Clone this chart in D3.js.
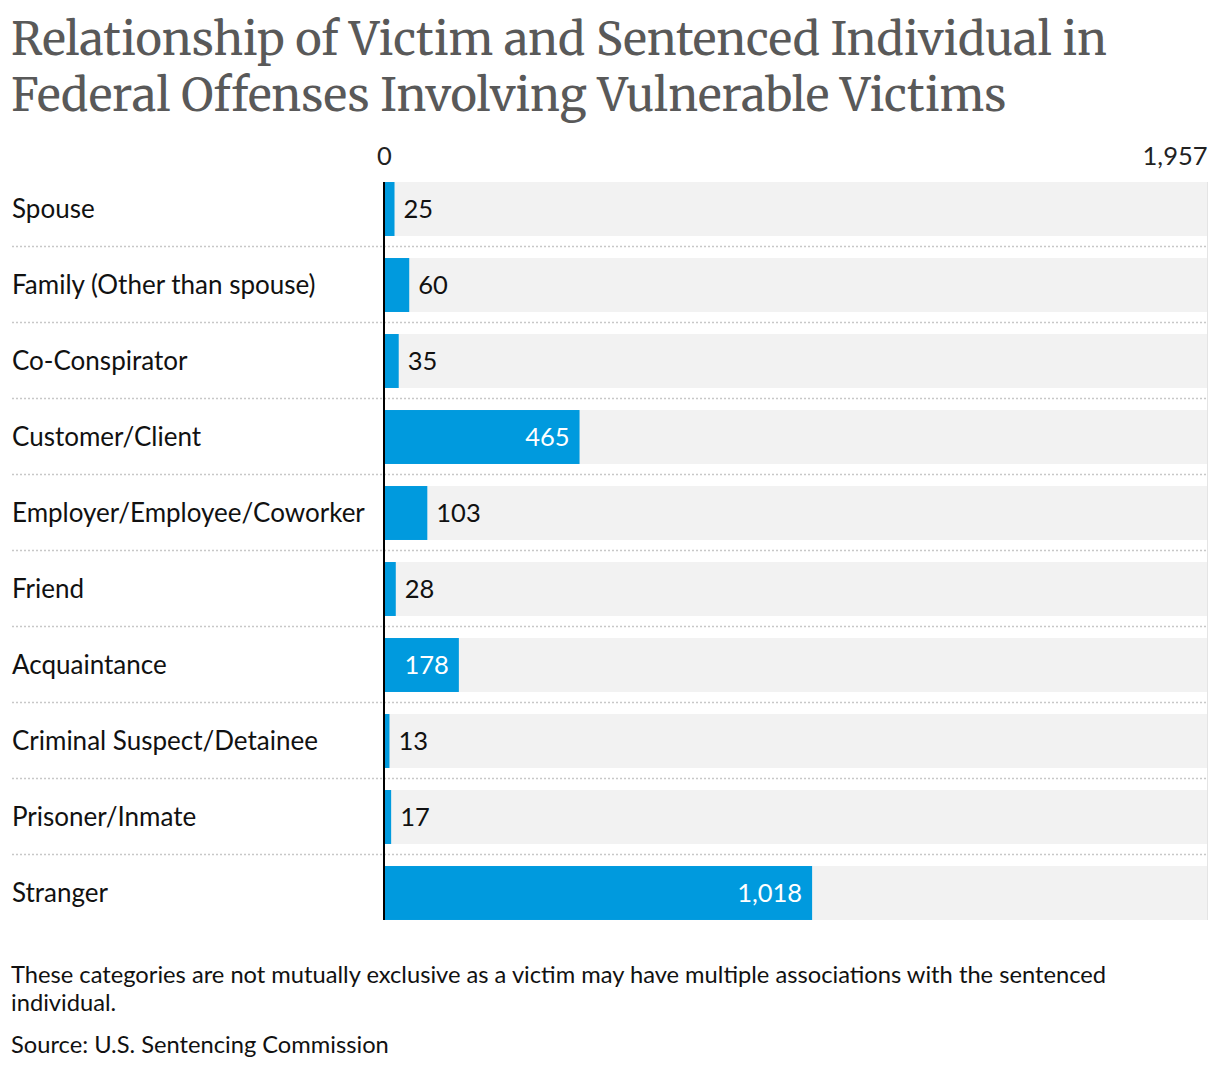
<!DOCTYPE html>
<html lang="en">
	<head>
		<meta charset="utf-8">
		<title>Relationship of Victim and Sentenced Individual</title>
		<script type="text/javascript" src="https://d3js.org/d3.v7.min.js"></script>
		<style type="text/css">
			body { margin: 0; background: #fff; }
			text { font-family: Lato, "Open Sans", sans-serif; }
		</style>
	</head>
	<body>
		<script type="text/javascript">

			//Data
			var categories = ["Spouse", "Family (Other than spouse)", "Co-Conspirator", "Customer/Client",
				"Employer/Employee/Coworker", "Friend", "Acquaintance", "Criminal Suspect/Detainee",
				"Prisoner/Inmate", "Stranger"];
			var values = [25, 60, 35, 465, 103, 28, 178, 13, 17, 1018];
			var maxValue = 1957;
			var tickValues = [0, 1957];
			var titleLines = ["Relationship of Victim and Sentenced Individual in",
				"Federal Offenses Involving Vulnerable Victims"];
			var noteLines = ["These categories are not mutually exclusive as a victim may have multiple associations with the sentenced",
				"individual."];
			var source = "Source: U.S. Sentencing Commission";

			var rows = categories.map(function(c, i) { return { name: c, value: values[i] }; });

			//Width and height
			var w = 1220;
			var h = 1070;

			var svg = d3.select("body")
						.append("svg")
						.attr("width", w)
						.attr("height", h);

			//title, squeezed to the reference width
			var title = svg.append("g");
			var titleSize = 46;
			titleLines.forEach(function(t, i) {
				var el = title.append("text")
					.attr("x", 11)
					.attr("y", 55 + i * 56)
					.attr("fill", "#595959")
					.style("font-family", "Merriweather, 'DejaVu Serif', serif")
					.style("font-size", titleSize + "px")
					.text(t);
				if (i === 0) {
					titleSize = 46 * 1096 / el.node().getComputedTextLength();
					el.style("font-size", titleSize + "px");
				}
			});

			var x = d3.scaleLinear()
				.domain([0, maxValue])
				.range([384, 1207]);

			var y = d3.scaleBand()
				.domain(categories)
				.range([171, 931])
				.paddingInner(0.29)
				.paddingOuter(0.145);

			//axis labels on top
			var axis = d3.axisTop(x).tickValues(tickValues).tickFormat(d3.format(",")).tickSize(0).tickPadding(0);
			var axisG = svg.append("g")
				.attr("transform", "translate(0,165)")
				.call(axis);
			axisG.select(".domain").remove();
			axisG.selectAll("text")
				.style("font-family", "Lato, sans-serif")
				.style("font-size", "25.5px")
				.attr("fill", "#222")
				.attr("dy", 0)
				.attr("text-anchor", function(d) { return d === maxValue ? "end" : "middle"; });

			//separators
			svg.selectAll("line.sep")
				.data(categories.slice(1))
				.enter()
				.append("line")
				.attr("class", "sep")
				.attr("x1", 12)
				.attr("x2", 1207)
				.attr("y1", function(d) { return y(d) - y.step() * 0.145 - 0.5; })
				.attr("y2", function(d) { return y(d) - y.step() * 0.145 - 0.5; })
				.attr("stroke", "#c8c8c8")
				.attr("stroke-width", 1.5)
				.attr("stroke-dasharray", "2,2");

			//background bars
			svg.selectAll("rect.bg")
				.data(rows)
				.enter()
				.append("rect")
				.attr("class", "bg")
				.attr("x", x(0))
				.attr("y", function(d) { return y(d.name); })
				.attr("width", x(maxValue) - x(0))
				.attr("height", y.bandwidth())
				.attr("fill", "#f2f2f2");

			svg.append("line")
				.attr("x1", x(maxValue) + 0.5)
				.attr("x2", x(maxValue) + 0.5)
				.attr("y1", y.range()[0] + 11)
				.attr("y2", y.range()[1] - 11)
				.attr("stroke", "#e4e4e4");

			//value bars
			svg.selectAll("rect.bar")
				.data(rows)
				.enter()
				.append("rect")
				.attr("class", "bar")
				.attr("x", x(0))
				.attr("y", function(d) { return y(d.name); })
				.attr("width", function(d) { return x(d.value) - x(0); })
				.attr("height", y.bandwidth())
				.attr("fill", "#009ade");

			//category labels
			svg.selectAll("text.cat")
				.data(rows)
				.enter()
				.append("text")
				.attr("class", "cat")
				.attr("x", 12)
				.attr("y", function(d) { return y(d.name) + y.bandwidth() / 2 + 9; })
				.attr("fill", "#111")
				.style("font-size", "26px")
				.text(function(d) { return d.name; });

			//value labels: inside if the bar is wide enough
			var fmt = d3.format(",");
			svg.selectAll("text.val")
				.data(rows)
				.enter()
				.append("text")
				.attr("class", "val")
				.attr("y", function(d) { return y(d.name) + y.bandwidth() / 2 + 9; })
				.style("font-size", "25.5px")
				.text(function(d) { return fmt(d.value); })
				.each(function(d) {
					var tw = this.getComputedTextLength();
					var bw = x(d.value) - x(0);
					var el = d3.select(this);
					if (bw > tw + 20) {
						el.attr("x", x(d.value) - 10).attr("text-anchor", "end").attr("fill", "#fff");
					} else {
						el.attr("x", x(d.value) + 9).attr("text-anchor", "start").attr("fill", "#111");
					}
				});

			//zero line
			svg.append("line")
				.attr("x1", x(0))
				.attr("x2", x(0))
				.attr("y1", y.range()[0] + 11)
				.attr("y2", y.range()[1] - 11)
				.attr("stroke", "#000")
				.attr("stroke-width", 2);

			//notes
			noteLines.forEach(function(t, i) {
				svg.append("text")
					.attr("x", 11)
					.attr("y", 983 + i * 28)
					.attr("fill", "#111")
					.style("font-size", "23.7px")
					.text(t);
			});
			svg.append("text")
				.attr("x", 11)
				.attr("y", 1053)
				.attr("fill", "#111")
				.style("font-size", "23.7px")
				.text(source);

		</script>
	</body>
</html>
